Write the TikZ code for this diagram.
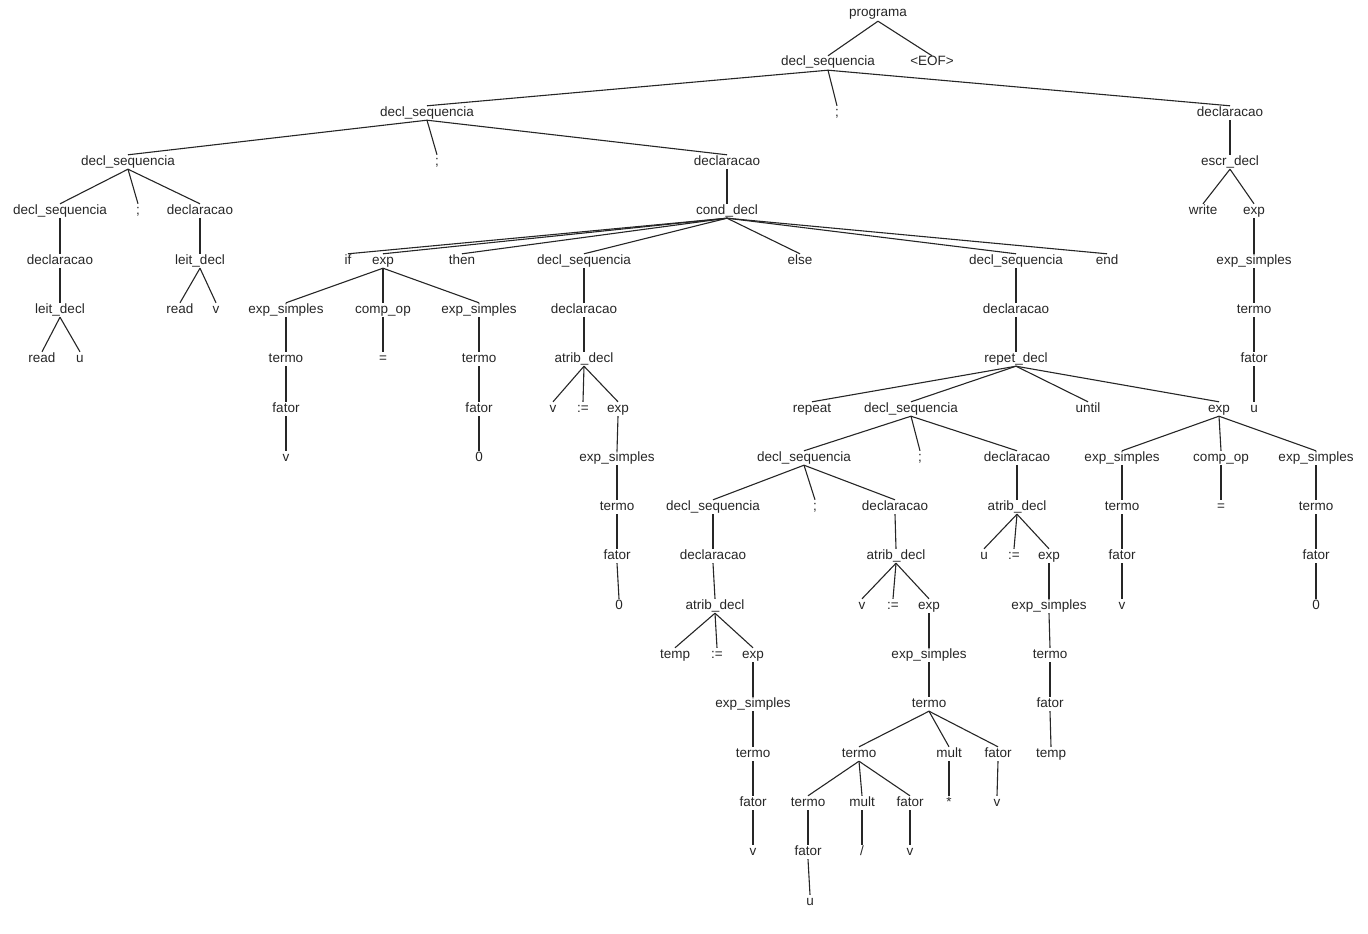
\documentclass[tikz,border=0pt]{standalone}
\usepackage{fontspec}
\setmainfont{Liberation Sans}
\begin{document}
\begin{tikzpicture}[x=1pt,y=-1pt,
  t/.style={inner sep=1pt,text height=9pt,text depth=3pt,font=\fontsize{13.5}{15}\selectfont,text=black!85},
  e/.style={line width=1.1pt,black!85}]
\useasboundingbox (0,0) rectangle (1368,934);
\foreach \n/\x/\y/\s in {
prog/878/14/programa,
ds1/828/63/decl\_sequencia, eof/932/63/<EOF>,
ds2/427/113/decl\_sequencia, sc1/837/113/;, dc1/1230/113/declaracao,
ds3/128/162/decl\_sequencia, sc2/437/162/;, dc2/727/162/declaracao, escr/1230/162/escr\_decl,
ds4/60/211/decl\_sequencia, sc3/138/211/;, dc3/200/211/declaracao, cond/727/211/cond\_decl, write/1203/211/write, ex1/1254/211/exp,
dc4/60/261/declaracao, leit1/200/261/leit\_decl, if/348/261/if, ex2/383/261/exp, then/462/261/then, ds5/584/261/decl\_sequencia, else/800/261/else, ds6/1016/261/decl\_sequencia, end/1107/261/end, es1/1254/261/exp\_simples,
leit2/60/310/leit\_decl, read1/180/310/read, v1/216/310/v, es2/286/310/exp\_simples, cop1/383/310/comp\_op, es3/479/310/exp\_simples, dc5/584/310/declaracao, dc6/1016/310/declaracao, te1/1254/310/termo,
read2/42/359/read, u1/80/359/u, te2/286/359/termo, eq1/383/359/=, te3/479/359/termo, at1/584/359/atrib\_decl, rep/1016/359/repet\_decl, fa1/1254/359/fator,
fa2/286/409/fator, fa3/479/409/fator, v2/553/409/v, as1/583/409/:=, ex3/618/409/exp, rpt/812/409/repeat, ds7/911/409/decl\_sequencia, until/1088/409/until, ex4/1219/409/exp, u2/1254/409/u,
v3/286/458/v, z1/479/458/0, es4/617/458/exp\_simples, ds8/804/458/decl\_sequencia, sc4/920/458/;, dc7/1017/458/declaracao, es5/1122/458/exp\_simples, cop2/1221/458/comp\_op, es6/1316/458/exp\_simples,
te4/617/507/termo, ds9/713/507/decl\_sequencia, sc5/815/507/;, dc8/895/507/declaracao, at2/1017/507/atrib\_decl, te5/1122/507/termo, eq2/1221/507/=, te6/1316/507/termo,
fa4/617/556/fator, dc9/713/556/declaracao, at3/896/556/atrib\_decl, u3/984/556/u, as2/1014/556/:=, ex5/1049/556/exp, fa5/1122/556/fator, fa6/1316/556/fator,
z2/619/606/0, at4/715/606/atrib\_decl, v4/862/606/v, as3/893/606/:=, ex6/929/606/exp, es7/1049/606/exp\_simples, v5/1122/606/v, z3/1316/606/0,
temp1/675/655/temp, as4/717/655/:=, ex7/753/655/exp, es8/929/655/exp\_simples, te7/1050/655/termo,
es9/753/704/exp\_simples, te8/929/704/termo, fa7/1050/704/fator,
te9/753/754/termo, te10/859/754/termo, mu1/949/754/mult, fa8/998/754/fator, temp2/1051/754/temp,
fa9/753/803/fator, te11/808/803/termo, mu2/862/803/mult, fa10/910/803/fator, st/949/803/*, v6/997/803/v,
v7/753/852/v, fa11/808/852/fator, sl/862/852/{/}, v8/910/852/v,
u4/810/902/u}
  \node[t] (\n) at (\x,\y) {\s};
\foreach \a/\b in {prog/ds1, prog/eof, ds1/ds2, ds1/sc1, ds1/dc1, ds2/ds3, ds2/sc2, ds2/dc2, dc1/escr, ds3/ds4, ds3/sc3, ds3/dc3, dc2/cond, escr/write, escr/ex1, ds4/dc4, dc3/leit1, cond/if, cond/ex2, cond/then, cond/ds5, cond/else, cond/ds6, cond/end, ex1/es1, dc4/leit2, leit1/read1, leit1/v1, ex2/es2, ex2/cop1, ex2/es3, ds5/dc5, ds6/dc6, es1/te1, leit2/read2, leit2/u1, es2/te2, cop1/eq1, es3/te3, dc5/at1, dc6/rep, te1/fa1, te2/fa2, te3/fa3, at1/v2, at1/as1, at1/ex3, rep/rpt, rep/ds7, rep/until, rep/ex4, fa1/u2, fa2/v3, fa3/z1, ex3/es4, ds7/ds8, ds7/sc4, ds7/dc7, ex4/es5, ex4/cop2, ex4/es6, es4/te4, ds8/ds9, ds8/sc5, ds8/dc8, dc7/at2, es5/te5, cop2/eq2, es6/te6, te4/fa4, ds9/dc9, dc8/at3, at2/u3, at2/as2, at2/ex5, te5/fa5, te6/fa6, fa4/z2, dc9/at4, at3/v4, at3/as3, at3/ex6, ex5/es7, fa5/v5, fa6/z3, at4/temp1, at4/as4, at4/ex7, ex6/es8, es7/te7, ex7/es9, es8/te8, te7/fa7, es9/te9, te8/te10, te8/mu1, te8/fa8, fa7/temp2, te9/fa9, te10/te11, te10/mu2, te10/fa10, mu1/st, fa8/v6, fa9/v7, te11/fa11, mu2/sl, fa10/v8, fa11/u4}
  \draw[e] (\a.south) -- (\b.north);
\end{tikzpicture}
\end{document}
